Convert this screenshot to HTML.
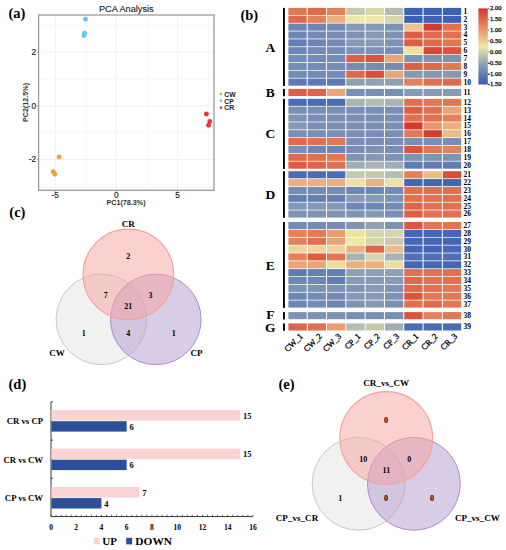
<!DOCTYPE html>
<html><head><meta charset="utf-8"><style>
html,body{margin:0;padding:0;background:#fff;width:506px;height:550px;overflow:hidden}
svg{display:block}
</style></head><body>
<svg width="506" height="550" viewBox="0 0 506 550">
<rect width="506" height="550" fill="#fff"/>
<text x="8.5" y="18" font-family="Liberation Serif, serif" font-weight="bold" font-size="14.5">(a)</text>
<text x="126.3" y="11.6" font-family="Liberation Sans, sans-serif" font-size="9.2" text-anchor="middle" fill="#222" stroke="#222" stroke-width="0.12">PCA Analysis</text>
<line x1="85.80" y1="15.0" x2="85.80" y2="190.3" stroke="#f5f5f5" stroke-width="0.8"/>
<line x1="147.00" y1="15.0" x2="147.00" y2="190.3" stroke="#f5f5f5" stroke-width="0.8"/>
<line x1="208.20" y1="15.0" x2="208.20" y2="190.3" stroke="#f5f5f5" stroke-width="0.8"/>
<line x1="38.6" y1="25.50" x2="214.0" y2="25.50" stroke="#f5f5f5" stroke-width="0.8"/>
<line x1="38.6" y1="79.10" x2="214.0" y2="79.10" stroke="#f5f5f5" stroke-width="0.8"/>
<line x1="38.6" y1="132.70" x2="214.0" y2="132.70" stroke="#f5f5f5" stroke-width="0.8"/>
<line x1="38.6" y1="186.30" x2="214.0" y2="186.30" stroke="#f5f5f5" stroke-width="0.8"/>
<line x1="55.20" y1="15.0" x2="55.20" y2="190.3" stroke="#efefef" stroke-width="0.9"/>
<line x1="116.40" y1="15.0" x2="116.40" y2="190.3" stroke="#efefef" stroke-width="0.9"/>
<line x1="177.60" y1="15.0" x2="177.60" y2="190.3" stroke="#efefef" stroke-width="0.9"/>
<line x1="38.6" y1="52.30" x2="214.0" y2="52.30" stroke="#efefef" stroke-width="0.9"/>
<line x1="38.6" y1="105.90" x2="214.0" y2="105.90" stroke="#efefef" stroke-width="0.9"/>
<line x1="38.6" y1="159.50" x2="214.0" y2="159.50" stroke="#efefef" stroke-width="0.9"/>
<rect x="38.6" y="15.0" width="175.40" height="175.30" fill="none" stroke="#9c9c9c" stroke-width="1.3"/>
<line x1="55.20" y1="190.3" x2="55.20" y2="192.3" stroke="#888" stroke-width="0.7"/>
<text x="55.20" y="197.9" font-family="Liberation Sans, sans-serif" font-size="8.3" text-anchor="middle" fill="#222" stroke="#222" stroke-width="0.15">-5</text>
<line x1="116.40" y1="190.3" x2="116.40" y2="192.3" stroke="#888" stroke-width="0.7"/>
<text x="116.40" y="197.9" font-family="Liberation Sans, sans-serif" font-size="8.3" text-anchor="middle" fill="#222" stroke="#222" stroke-width="0.15">0</text>
<line x1="177.60" y1="190.3" x2="177.60" y2="192.3" stroke="#888" stroke-width="0.7"/>
<text x="177.60" y="197.9" font-family="Liberation Sans, sans-serif" font-size="8.3" text-anchor="middle" fill="#222" stroke="#222" stroke-width="0.15">5</text>
<line x1="36.6" y1="52.30" x2="38.6" y2="52.30" stroke="#888" stroke-width="0.7"/>
<text x="36.2" y="55.20" font-family="Liberation Sans, sans-serif" font-size="8.3" text-anchor="end" fill="#222" stroke="#222" stroke-width="0.15">2</text>
<line x1="36.6" y1="105.90" x2="38.6" y2="105.90" stroke="#888" stroke-width="0.7"/>
<text x="36.2" y="108.80" font-family="Liberation Sans, sans-serif" font-size="8.3" text-anchor="end" fill="#222" stroke="#222" stroke-width="0.15">0</text>
<line x1="36.6" y1="159.50" x2="38.6" y2="159.50" stroke="#888" stroke-width="0.7"/>
<text x="36.2" y="162.40" font-family="Liberation Sans, sans-serif" font-size="8.3" text-anchor="end" fill="#222" stroke="#222" stroke-width="0.15">-2</text>
<text x="126" y="205" font-family="Liberation Sans, sans-serif" font-weight="bold" font-size="7.2" text-anchor="middle" fill="#333">PC1(78.3%)</text>
<text transform="translate(27.8,102.5) rotate(-90)" font-family="Liberation Sans, sans-serif" font-weight="bold" font-size="7.2" text-anchor="middle" fill="#333">PC2(12.5%)</text>
<circle cx="85.5" cy="19.2" r="2.45" fill="#5ac8f2"/>
<circle cx="84.6" cy="33.2" r="2.45" fill="#5ac8f2"/>
<circle cx="83.9" cy="35.6" r="2.45" fill="#5ac8f2"/>
<circle cx="59.0" cy="157.0" r="2.45" fill="#f0a232"/>
<circle cx="53.2" cy="171.8" r="2.45" fill="#f0a232"/>
<circle cx="54.8" cy="174.2" r="2.45" fill="#f0a232"/>
<circle cx="206.4" cy="114.0" r="2.45" fill="#ea3340"/>
<circle cx="209.8" cy="121.4" r="2.45" fill="#ea3340"/>
<circle cx="208.6" cy="125.3" r="2.45" fill="#ea3340"/>
<circle cx="220.9" cy="93.9" r="1.3" fill="#f0a232"/>
<text x="224.3" y="96.70" font-family="Liberation Sans, sans-serif" font-weight="bold" font-size="6.8" fill="#222">CW</text>
<circle cx="220.9" cy="100.7" r="1.3" fill="#5ac8f2"/>
<text x="224.3" y="103.50" font-family="Liberation Sans, sans-serif" font-weight="bold" font-size="6.8" fill="#222">CP</text>
<circle cx="220.9" cy="107.6" r="1.3" fill="#ea3340"/>
<text x="224.3" y="110.40" font-family="Liberation Sans, sans-serif" font-weight="bold" font-size="6.8" fill="#222">CR</text>
<text x="240.4" y="20.4" font-family="Liberation Serif, serif" font-weight="bold" font-size="14.5">(b)</text>
<rect x="283" y="7.90" width="1.9" height="78.00" fill="#000"/>
<text x="270.3" y="51.80" font-family="Liberation Serif, serif" font-weight="bold" font-size="13.5" text-anchor="middle">A</text>
<rect x="288.40" y="7.90" width="18.3" height="7.1" fill="#e27754"/>
<rect x="307.71" y="7.90" width="18.3" height="7.1" fill="#e0694b"/>
<rect x="327.02" y="7.90" width="18.3" height="7.1" fill="#e4815b"/>
<rect x="346.33" y="7.90" width="18.3" height="7.1" fill="#c5c9ae"/>
<rect x="365.64" y="7.90" width="18.3" height="7.1" fill="#d6d5ac"/>
<rect x="384.95" y="7.90" width="18.3" height="7.1" fill="#b5bcb0"/>
<rect x="404.26" y="7.90" width="18.3" height="7.1" fill="#3d61b6"/>
<rect x="423.57" y="7.90" width="18.3" height="7.1" fill="#3d61b6"/>
<rect x="442.88" y="7.90" width="18.3" height="7.1" fill="#3d61b6"/>
<text x="463.5" y="13.90" font-family="Liberation Serif, serif" font-weight="bold" font-size="7.5">1</text>
<rect x="288.40" y="15.75" width="18.3" height="7.1" fill="#e0694b"/>
<rect x="307.71" y="15.75" width="18.3" height="7.1" fill="#e4815b"/>
<rect x="327.02" y="15.75" width="18.3" height="7.1" fill="#e9b17f"/>
<rect x="346.33" y="15.75" width="18.3" height="7.1" fill="#eee8aa"/>
<rect x="365.64" y="15.75" width="18.3" height="7.1" fill="#eee8aa"/>
<rect x="384.95" y="15.75" width="18.3" height="7.1" fill="#d6d5ac"/>
<rect x="404.26" y="15.75" width="18.3" height="7.1" fill="#3d61b6"/>
<rect x="423.57" y="15.75" width="18.3" height="7.1" fill="#3d61b6"/>
<rect x="442.88" y="15.75" width="18.3" height="7.1" fill="#3d61b6"/>
<text x="463.5" y="21.75" font-family="Liberation Serif, serif" font-weight="bold" font-size="7.5">2</text>
<rect x="288.40" y="23.60" width="18.3" height="7.1" fill="#6e86b5"/>
<rect x="307.71" y="23.60" width="18.3" height="7.1" fill="#6e86b5"/>
<rect x="327.02" y="23.60" width="18.3" height="7.1" fill="#748bb4"/>
<rect x="346.33" y="23.60" width="18.3" height="7.1" fill="#8598b4"/>
<rect x="365.64" y="23.60" width="18.3" height="7.1" fill="#8598b4"/>
<rect x="384.95" y="23.60" width="18.3" height="7.1" fill="#7e93b4"/>
<rect x="404.26" y="23.60" width="18.3" height="7.1" fill="#ebc38d"/>
<rect x="423.57" y="23.60" width="18.3" height="7.1" fill="#d73b2d"/>
<rect x="442.88" y="23.60" width="18.3" height="7.1" fill="#e1704f"/>
<text x="463.5" y="29.60" font-family="Liberation Serif, serif" font-weight="bold" font-size="7.5">3</text>
<rect x="288.40" y="31.45" width="18.3" height="7.1" fill="#6e86b5"/>
<rect x="307.71" y="31.45" width="18.3" height="7.1" fill="#748bb4"/>
<rect x="327.02" y="31.45" width="18.3" height="7.1" fill="#748bb4"/>
<rect x="346.33" y="31.45" width="18.3" height="7.1" fill="#7e93b4"/>
<rect x="365.64" y="31.45" width="18.3" height="7.1" fill="#8598b4"/>
<rect x="384.95" y="31.45" width="18.3" height="7.1" fill="#7e93b4"/>
<rect x="404.26" y="31.45" width="18.3" height="7.1" fill="#de5e44"/>
<rect x="423.57" y="31.45" width="18.3" height="7.1" fill="#e0694b"/>
<rect x="442.88" y="31.45" width="18.3" height="7.1" fill="#e1704f"/>
<text x="463.5" y="37.45" font-family="Liberation Serif, serif" font-weight="bold" font-size="7.5">4</text>
<rect x="288.40" y="39.30" width="18.3" height="7.1" fill="#647fb5"/>
<rect x="307.71" y="39.30" width="18.3" height="7.1" fill="#6e86b5"/>
<rect x="327.02" y="39.30" width="18.3" height="7.1" fill="#748bb4"/>
<rect x="346.33" y="39.30" width="18.3" height="7.1" fill="#8598b4"/>
<rect x="365.64" y="39.30" width="18.3" height="7.1" fill="#889ab4"/>
<rect x="384.95" y="39.30" width="18.3" height="7.1" fill="#7e93b4"/>
<rect x="404.26" y="39.30" width="18.3" height="7.1" fill="#de5e44"/>
<rect x="423.57" y="39.30" width="18.3" height="7.1" fill="#e0694b"/>
<rect x="442.88" y="39.30" width="18.3" height="7.1" fill="#e27754"/>
<text x="463.5" y="45.30" font-family="Liberation Serif, serif" font-weight="bold" font-size="7.5">5</text>
<rect x="288.40" y="47.15" width="18.3" height="7.1" fill="#6e86b5"/>
<rect x="307.71" y="47.15" width="18.3" height="7.1" fill="#748bb4"/>
<rect x="327.02" y="47.15" width="18.3" height="7.1" fill="#748bb4"/>
<rect x="346.33" y="47.15" width="18.3" height="7.1" fill="#7e93b4"/>
<rect x="365.64" y="47.15" width="18.3" height="7.1" fill="#7e93b4"/>
<rect x="384.95" y="47.15" width="18.3" height="7.1" fill="#788eb4"/>
<rect x="404.26" y="47.15" width="18.3" height="7.1" fill="#ede1a4"/>
<rect x="423.57" y="47.15" width="18.3" height="7.1" fill="#d94634"/>
<rect x="442.88" y="47.15" width="18.3" height="7.1" fill="#dc543d"/>
<text x="463.5" y="53.15" font-family="Liberation Serif, serif" font-weight="bold" font-size="7.5">6</text>
<rect x="288.40" y="55.00" width="18.3" height="7.1" fill="#748bb4"/>
<rect x="307.71" y="55.00" width="18.3" height="7.1" fill="#748bb4"/>
<rect x="327.02" y="55.00" width="18.3" height="7.1" fill="#748bb4"/>
<rect x="346.33" y="55.00" width="18.3" height="7.1" fill="#de5e44"/>
<rect x="365.64" y="55.00" width="18.3" height="7.1" fill="#dc543d"/>
<rect x="384.95" y="55.00" width="18.3" height="7.1" fill="#e8a676"/>
<rect x="404.26" y="55.00" width="18.3" height="7.1" fill="#7e93b4"/>
<rect x="423.57" y="55.00" width="18.3" height="7.1" fill="#7e93b4"/>
<rect x="442.88" y="55.00" width="18.3" height="7.1" fill="#7e93b4"/>
<text x="463.5" y="61.00" font-family="Liberation Serif, serif" font-weight="bold" font-size="7.5">7</text>
<rect x="288.40" y="62.85" width="18.3" height="7.1" fill="#748bb4"/>
<rect x="307.71" y="62.85" width="18.3" height="7.1" fill="#748bb4"/>
<rect x="327.02" y="62.85" width="18.3" height="7.1" fill="#748bb4"/>
<rect x="346.33" y="62.85" width="18.3" height="7.1" fill="#748bb4"/>
<rect x="365.64" y="62.85" width="18.3" height="7.1" fill="#748bb4"/>
<rect x="384.95" y="62.85" width="18.3" height="7.1" fill="#748bb4"/>
<rect x="404.26" y="62.85" width="18.3" height="7.1" fill="#de5e44"/>
<rect x="423.57" y="62.85" width="18.3" height="7.1" fill="#e0694b"/>
<rect x="442.88" y="62.85" width="18.3" height="7.1" fill="#e27754"/>
<text x="463.5" y="68.85" font-family="Liberation Serif, serif" font-weight="bold" font-size="7.5">8</text>
<rect x="288.40" y="70.70" width="18.3" height="7.1" fill="#748bb4"/>
<rect x="307.71" y="70.70" width="18.3" height="7.1" fill="#748bb4"/>
<rect x="327.02" y="70.70" width="18.3" height="7.1" fill="#748bb4"/>
<rect x="346.33" y="70.70" width="18.3" height="7.1" fill="#e0694b"/>
<rect x="365.64" y="70.70" width="18.3" height="7.1" fill="#da4d38"/>
<rect x="384.95" y="70.70" width="18.3" height="7.1" fill="#e8a676"/>
<rect x="404.26" y="70.70" width="18.3" height="7.1" fill="#8598b4"/>
<rect x="423.57" y="70.70" width="18.3" height="7.1" fill="#8598b4"/>
<rect x="442.88" y="70.70" width="18.3" height="7.1" fill="#8598b4"/>
<text x="463.5" y="76.70" font-family="Liberation Serif, serif" font-weight="bold" font-size="7.5">9</text>
<rect x="288.40" y="78.55" width="18.3" height="7.1" fill="#5d7ab5"/>
<rect x="307.71" y="78.55" width="18.3" height="7.1" fill="#5d7ab5"/>
<rect x="327.02" y="78.55" width="18.3" height="7.1" fill="#5d7ab5"/>
<rect x="346.33" y="78.55" width="18.3" height="7.1" fill="#90a0b3"/>
<rect x="365.64" y="78.55" width="18.3" height="7.1" fill="#90a0b3"/>
<rect x="384.95" y="78.55" width="18.3" height="7.1" fill="#90a0b3"/>
<rect x="404.26" y="78.55" width="18.3" height="7.1" fill="#e4815b"/>
<rect x="423.57" y="78.55" width="18.3" height="7.1" fill="#e1704f"/>
<rect x="442.88" y="78.55" width="18.3" height="7.1" fill="#e0694b"/>
<text x="463.5" y="84.55" font-family="Liberation Serif, serif" font-weight="bold" font-size="7.5">10</text>
<rect x="283" y="88.90" width="1.9" height="7.35" fill="#000"/>
<text x="270.3" y="96.90" font-family="Liberation Serif, serif" font-weight="bold" font-size="13.5" text-anchor="middle">B</text>
<rect x="288.40" y="88.90" width="18.3" height="7.1" fill="#de5e44"/>
<rect x="307.71" y="88.90" width="18.3" height="7.1" fill="#df6548"/>
<rect x="327.02" y="88.90" width="18.3" height="7.1" fill="#e8a676"/>
<rect x="346.33" y="88.90" width="18.3" height="7.1" fill="#788eb4"/>
<rect x="365.64" y="88.90" width="18.3" height="7.1" fill="#788eb4"/>
<rect x="384.95" y="88.90" width="18.3" height="7.1" fill="#788eb4"/>
<rect x="404.26" y="88.90" width="18.3" height="7.1" fill="#889ab4"/>
<rect x="423.57" y="88.90" width="18.3" height="7.1" fill="#889ab4"/>
<rect x="442.88" y="88.90" width="18.3" height="7.1" fill="#889ab4"/>
<text x="463.5" y="94.90" font-family="Liberation Serif, serif" font-weight="bold" font-size="7.5">11</text>
<rect x="283" y="98.80" width="1.9" height="70.15" fill="#000"/>
<text x="270.3" y="138.40" font-family="Liberation Serif, serif" font-weight="bold" font-size="13.5" text-anchor="middle">C</text>
<rect x="288.40" y="98.80" width="18.3" height="7.1" fill="#4a6bb6"/>
<rect x="307.71" y="98.80" width="18.3" height="7.1" fill="#4a6bb6"/>
<rect x="327.02" y="98.80" width="18.3" height="7.1" fill="#4a6bb6"/>
<rect x="346.33" y="98.80" width="18.3" height="7.1" fill="#a9b3b1"/>
<rect x="365.64" y="98.80" width="18.3" height="7.1" fill="#b5bcb0"/>
<rect x="384.95" y="98.80" width="18.3" height="7.1" fill="#a9b3b1"/>
<rect x="404.26" y="98.80" width="18.3" height="7.1" fill="#e1704f"/>
<rect x="423.57" y="98.80" width="18.3" height="7.1" fill="#e27754"/>
<rect x="442.88" y="98.80" width="18.3" height="7.1" fill="#e27754"/>
<text x="463.5" y="104.80" font-family="Liberation Serif, serif" font-weight="bold" font-size="7.5">12</text>
<rect x="288.40" y="106.65" width="18.3" height="7.1" fill="#788eb4"/>
<rect x="307.71" y="106.65" width="18.3" height="7.1" fill="#788eb4"/>
<rect x="327.02" y="106.65" width="18.3" height="7.1" fill="#788eb4"/>
<rect x="346.33" y="106.65" width="18.3" height="7.1" fill="#788eb4"/>
<rect x="365.64" y="106.65" width="18.3" height="7.1" fill="#788eb4"/>
<rect x="384.95" y="106.65" width="18.3" height="7.1" fill="#788eb4"/>
<rect x="404.26" y="106.65" width="18.3" height="7.1" fill="#de5e44"/>
<rect x="423.57" y="106.65" width="18.3" height="7.1" fill="#e1704f"/>
<rect x="442.88" y="106.65" width="18.3" height="7.1" fill="#e8a676"/>
<text x="463.5" y="112.65" font-family="Liberation Serif, serif" font-weight="bold" font-size="7.5">13</text>
<rect x="288.40" y="114.50" width="18.3" height="7.1" fill="#7e93b4"/>
<rect x="307.71" y="114.50" width="18.3" height="7.1" fill="#788eb4"/>
<rect x="327.02" y="114.50" width="18.3" height="7.1" fill="#788eb4"/>
<rect x="346.33" y="114.50" width="18.3" height="7.1" fill="#788eb4"/>
<rect x="365.64" y="114.50" width="18.3" height="7.1" fill="#788eb4"/>
<rect x="384.95" y="114.50" width="18.3" height="7.1" fill="#788eb4"/>
<rect x="404.26" y="114.50" width="18.3" height="7.1" fill="#e1704f"/>
<rect x="423.57" y="114.50" width="18.3" height="7.1" fill="#e1704f"/>
<rect x="442.88" y="114.50" width="18.3" height="7.1" fill="#e4815b"/>
<text x="463.5" y="120.50" font-family="Liberation Serif, serif" font-weight="bold" font-size="7.5">14</text>
<rect x="288.40" y="122.35" width="18.3" height="7.1" fill="#8598b4"/>
<rect x="307.71" y="122.35" width="18.3" height="7.1" fill="#788eb4"/>
<rect x="327.02" y="122.35" width="18.3" height="7.1" fill="#788eb4"/>
<rect x="346.33" y="122.35" width="18.3" height="7.1" fill="#788eb4"/>
<rect x="365.64" y="122.35" width="18.3" height="7.1" fill="#788eb4"/>
<rect x="384.95" y="122.35" width="18.3" height="7.1" fill="#788eb4"/>
<rect x="404.26" y="122.35" width="18.3" height="7.1" fill="#d7382a"/>
<rect x="423.57" y="122.35" width="18.3" height="7.1" fill="#e7976b"/>
<rect x="442.88" y="122.35" width="18.3" height="7.1" fill="#e9b17f"/>
<text x="463.5" y="128.35" font-family="Liberation Serif, serif" font-weight="bold" font-size="7.5">15</text>
<rect x="288.40" y="130.20" width="18.3" height="7.1" fill="#788eb4"/>
<rect x="307.71" y="130.20" width="18.3" height="7.1" fill="#788eb4"/>
<rect x="327.02" y="130.20" width="18.3" height="7.1" fill="#788eb4"/>
<rect x="346.33" y="130.20" width="18.3" height="7.1" fill="#788eb4"/>
<rect x="365.64" y="130.20" width="18.3" height="7.1" fill="#788eb4"/>
<rect x="384.95" y="130.20" width="18.3" height="7.1" fill="#788eb4"/>
<rect x="404.26" y="130.20" width="18.3" height="7.1" fill="#e27754"/>
<rect x="423.57" y="130.20" width="18.3" height="7.1" fill="#d73b2d"/>
<rect x="442.88" y="130.20" width="18.3" height="7.1" fill="#eabc87"/>
<text x="463.5" y="136.20" font-family="Liberation Serif, serif" font-weight="bold" font-size="7.5">16</text>
<rect x="288.40" y="138.05" width="18.3" height="7.1" fill="#e0694b"/>
<rect x="307.71" y="138.05" width="18.3" height="7.1" fill="#e1704f"/>
<rect x="327.02" y="138.05" width="18.3" height="7.1" fill="#e27754"/>
<rect x="346.33" y="138.05" width="18.3" height="7.1" fill="#788eb4"/>
<rect x="365.64" y="138.05" width="18.3" height="7.1" fill="#788eb4"/>
<rect x="384.95" y="138.05" width="18.3" height="7.1" fill="#788eb4"/>
<rect x="404.26" y="138.05" width="18.3" height="7.1" fill="#788eb4"/>
<rect x="423.57" y="138.05" width="18.3" height="7.1" fill="#788eb4"/>
<rect x="442.88" y="138.05" width="18.3" height="7.1" fill="#788eb4"/>
<text x="463.5" y="144.05" font-family="Liberation Serif, serif" font-weight="bold" font-size="7.5">17</text>
<rect x="288.40" y="145.90" width="18.3" height="7.1" fill="#788eb4"/>
<rect x="307.71" y="145.90" width="18.3" height="7.1" fill="#6e86b5"/>
<rect x="327.02" y="145.90" width="18.3" height="7.1" fill="#6e86b5"/>
<rect x="346.33" y="145.90" width="18.3" height="7.1" fill="#788eb4"/>
<rect x="365.64" y="145.90" width="18.3" height="7.1" fill="#7e93b4"/>
<rect x="384.95" y="145.90" width="18.3" height="7.1" fill="#788eb4"/>
<rect x="404.26" y="145.90" width="18.3" height="7.1" fill="#dc543d"/>
<rect x="423.57" y="145.90" width="18.3" height="7.1" fill="#e27754"/>
<rect x="442.88" y="145.90" width="18.3" height="7.1" fill="#e4815b"/>
<text x="463.5" y="151.90" font-family="Liberation Serif, serif" font-weight="bold" font-size="7.5">18</text>
<rect x="288.40" y="153.75" width="18.3" height="7.1" fill="#e0694b"/>
<rect x="307.71" y="153.75" width="18.3" height="7.1" fill="#e1704f"/>
<rect x="327.02" y="153.75" width="18.3" height="7.1" fill="#e27754"/>
<rect x="346.33" y="153.75" width="18.3" height="7.1" fill="#7e93b4"/>
<rect x="365.64" y="153.75" width="18.3" height="7.1" fill="#8598b4"/>
<rect x="384.95" y="153.75" width="18.3" height="7.1" fill="#7e93b4"/>
<rect x="404.26" y="153.75" width="18.3" height="7.1" fill="#7e93b4"/>
<rect x="423.57" y="153.75" width="18.3" height="7.1" fill="#7e93b4"/>
<rect x="442.88" y="153.75" width="18.3" height="7.1" fill="#7e93b4"/>
<text x="463.5" y="159.75" font-family="Liberation Serif, serif" font-weight="bold" font-size="7.5">19</text>
<rect x="288.40" y="161.60" width="18.3" height="7.1" fill="#de5e44"/>
<rect x="307.71" y="161.60" width="18.3" height="7.1" fill="#df6548"/>
<rect x="327.02" y="161.60" width="18.3" height="7.1" fill="#e1704f"/>
<rect x="346.33" y="161.60" width="18.3" height="7.1" fill="#a0adb2"/>
<rect x="365.64" y="161.60" width="18.3" height="7.1" fill="#a9b3b1"/>
<rect x="384.95" y="161.60" width="18.3" height="7.1" fill="#a0adb2"/>
<rect x="404.26" y="161.60" width="18.3" height="7.1" fill="#617cb5"/>
<rect x="423.57" y="161.60" width="18.3" height="7.1" fill="#617cb5"/>
<rect x="442.88" y="161.60" width="18.3" height="7.1" fill="#617cb5"/>
<text x="463.5" y="167.60" font-family="Liberation Serif, serif" font-weight="bold" font-size="7.5">20</text>
<rect x="283" y="171.20" width="1.9" height="46.60" fill="#000"/>
<text x="270.3" y="199.20" font-family="Liberation Serif, serif" font-weight="bold" font-size="13.5" text-anchor="middle">D</text>
<rect x="288.40" y="171.20" width="18.3" height="7.1" fill="#4a6bb6"/>
<rect x="307.71" y="171.20" width="18.3" height="7.1" fill="#4a6bb6"/>
<rect x="327.02" y="171.20" width="18.3" height="7.1" fill="#4a6bb6"/>
<rect x="346.33" y="171.20" width="18.3" height="7.1" fill="#c5c9ae"/>
<rect x="365.64" y="171.20" width="18.3" height="7.1" fill="#c5c9ae"/>
<rect x="384.95" y="171.20" width="18.3" height="7.1" fill="#b5bcb0"/>
<rect x="404.26" y="171.20" width="18.3" height="7.1" fill="#e4815b"/>
<rect x="423.57" y="171.20" width="18.3" height="7.1" fill="#eabc87"/>
<rect x="442.88" y="171.20" width="18.3" height="7.1" fill="#da4d38"/>
<text x="463.5" y="177.20" font-family="Liberation Serif, serif" font-weight="bold" font-size="7.5">21</text>
<rect x="288.40" y="179.05" width="18.3" height="7.1" fill="#e9b17f"/>
<rect x="307.71" y="179.05" width="18.3" height="7.1" fill="#e9b17f"/>
<rect x="327.02" y="179.05" width="18.3" height="7.1" fill="#e9b17f"/>
<rect x="346.33" y="179.05" width="18.3" height="7.1" fill="#ede1a4"/>
<rect x="365.64" y="179.05" width="18.3" height="7.1" fill="#e9b17f"/>
<rect x="384.95" y="179.05" width="18.3" height="7.1" fill="#ede1a4"/>
<rect x="404.26" y="179.05" width="18.3" height="7.1" fill="#4366b6"/>
<rect x="423.57" y="179.05" width="18.3" height="7.1" fill="#4366b6"/>
<rect x="442.88" y="179.05" width="18.3" height="7.1" fill="#4366b6"/>
<text x="463.5" y="185.05" font-family="Liberation Serif, serif" font-weight="bold" font-size="7.5">22</text>
<rect x="288.40" y="186.90" width="18.3" height="7.1" fill="#748bb4"/>
<rect x="307.71" y="186.90" width="18.3" height="7.1" fill="#748bb4"/>
<rect x="327.02" y="186.90" width="18.3" height="7.1" fill="#748bb4"/>
<rect x="346.33" y="186.90" width="18.3" height="7.1" fill="#6e86b5"/>
<rect x="365.64" y="186.90" width="18.3" height="7.1" fill="#6e86b5"/>
<rect x="384.95" y="186.90" width="18.3" height="7.1" fill="#748bb4"/>
<rect x="404.26" y="186.90" width="18.3" height="7.1" fill="#e1704f"/>
<rect x="423.57" y="186.90" width="18.3" height="7.1" fill="#e1704f"/>
<rect x="442.88" y="186.90" width="18.3" height="7.1" fill="#e1704f"/>
<text x="463.5" y="192.90" font-family="Liberation Serif, serif" font-weight="bold" font-size="7.5">23</text>
<rect x="288.40" y="194.75" width="18.3" height="7.1" fill="#647fb5"/>
<rect x="307.71" y="194.75" width="18.3" height="7.1" fill="#647fb5"/>
<rect x="327.02" y="194.75" width="18.3" height="7.1" fill="#647fb5"/>
<rect x="346.33" y="194.75" width="18.3" height="7.1" fill="#889ab4"/>
<rect x="365.64" y="194.75" width="18.3" height="7.1" fill="#889ab4"/>
<rect x="384.95" y="194.75" width="18.3" height="7.1" fill="#7e93b4"/>
<rect x="404.26" y="194.75" width="18.3" height="7.1" fill="#e1704f"/>
<rect x="423.57" y="194.75" width="18.3" height="7.1" fill="#e1704f"/>
<rect x="442.88" y="194.75" width="18.3" height="7.1" fill="#e1704f"/>
<text x="463.5" y="200.75" font-family="Liberation Serif, serif" font-weight="bold" font-size="7.5">24</text>
<rect x="288.40" y="202.60" width="18.3" height="7.1" fill="#8598b4"/>
<rect x="307.71" y="202.60" width="18.3" height="7.1" fill="#8598b4"/>
<rect x="327.02" y="202.60" width="18.3" height="7.1" fill="#8598b4"/>
<rect x="346.33" y="202.60" width="18.3" height="7.1" fill="#6e86b5"/>
<rect x="365.64" y="202.60" width="18.3" height="7.1" fill="#6e86b5"/>
<rect x="384.95" y="202.60" width="18.3" height="7.1" fill="#748bb4"/>
<rect x="404.26" y="202.60" width="18.3" height="7.1" fill="#df6548"/>
<rect x="423.57" y="202.60" width="18.3" height="7.1" fill="#e1704f"/>
<rect x="442.88" y="202.60" width="18.3" height="7.1" fill="#e1704f"/>
<text x="463.5" y="208.60" font-family="Liberation Serif, serif" font-weight="bold" font-size="7.5">25</text>
<rect x="288.40" y="210.45" width="18.3" height="7.1" fill="#7e93b4"/>
<rect x="307.71" y="210.45" width="18.3" height="7.1" fill="#7e93b4"/>
<rect x="327.02" y="210.45" width="18.3" height="7.1" fill="#7e93b4"/>
<rect x="346.33" y="210.45" width="18.3" height="7.1" fill="#7e93b4"/>
<rect x="365.64" y="210.45" width="18.3" height="7.1" fill="#8598b4"/>
<rect x="384.95" y="210.45" width="18.3" height="7.1" fill="#788eb4"/>
<rect x="404.26" y="210.45" width="18.3" height="7.1" fill="#de5e44"/>
<rect x="423.57" y="210.45" width="18.3" height="7.1" fill="#e1704f"/>
<rect x="442.88" y="210.45" width="18.3" height="7.1" fill="#e1704f"/>
<text x="463.5" y="216.45" font-family="Liberation Serif, serif" font-weight="bold" font-size="7.5">26</text>
<rect x="283" y="222.00" width="1.9" height="85.85" fill="#000"/>
<text x="270.3" y="270.00" font-family="Liberation Serif, serif" font-weight="bold" font-size="13.5" text-anchor="middle">E</text>
<rect x="288.40" y="222.00" width="18.3" height="7.1" fill="#748bb4"/>
<rect x="307.71" y="222.00" width="18.3" height="7.1" fill="#748bb4"/>
<rect x="327.02" y="222.00" width="18.3" height="7.1" fill="#748bb4"/>
<rect x="346.33" y="222.00" width="18.3" height="7.1" fill="#7e93b4"/>
<rect x="365.64" y="222.00" width="18.3" height="7.1" fill="#90a0b3"/>
<rect x="384.95" y="222.00" width="18.3" height="7.1" fill="#7e93b4"/>
<rect x="404.26" y="222.00" width="18.3" height="7.1" fill="#dc573f"/>
<rect x="423.57" y="222.00" width="18.3" height="7.1" fill="#e27754"/>
<rect x="442.88" y="222.00" width="18.3" height="7.1" fill="#e27754"/>
<text x="463.5" y="228.00" font-family="Liberation Serif, serif" font-weight="bold" font-size="7.5">27</text>
<rect x="288.40" y="229.85" width="18.3" height="7.1" fill="#e4815b"/>
<rect x="307.71" y="229.85" width="18.3" height="7.1" fill="#e37a56"/>
<rect x="327.02" y="229.85" width="18.3" height="7.1" fill="#e89e70"/>
<rect x="346.33" y="229.85" width="18.3" height="7.1" fill="#ede1a4"/>
<rect x="365.64" y="229.85" width="18.3" height="7.1" fill="#d6d5ac"/>
<rect x="384.95" y="229.85" width="18.3" height="7.1" fill="#d6d5ac"/>
<rect x="404.26" y="229.85" width="18.3" height="7.1" fill="#4366b6"/>
<rect x="423.57" y="229.85" width="18.3" height="7.1" fill="#4366b6"/>
<rect x="442.88" y="229.85" width="18.3" height="7.1" fill="#4366b6"/>
<text x="463.5" y="235.85" font-family="Liberation Serif, serif" font-weight="bold" font-size="7.5">28</text>
<rect x="288.40" y="237.70" width="18.3" height="7.1" fill="#e4815b"/>
<rect x="307.71" y="237.70" width="18.3" height="7.1" fill="#e1704f"/>
<rect x="327.02" y="237.70" width="18.3" height="7.1" fill="#e8a676"/>
<rect x="346.33" y="237.70" width="18.3" height="7.1" fill="#eee8aa"/>
<rect x="365.64" y="237.70" width="18.3" height="7.1" fill="#d6d5ac"/>
<rect x="384.95" y="237.70" width="18.3" height="7.1" fill="#c5c9ae"/>
<rect x="404.26" y="237.70" width="18.3" height="7.1" fill="#4366b6"/>
<rect x="423.57" y="237.70" width="18.3" height="7.1" fill="#4366b6"/>
<rect x="442.88" y="237.70" width="18.3" height="7.1" fill="#4366b6"/>
<text x="463.5" y="243.70" font-family="Liberation Serif, serif" font-weight="bold" font-size="7.5">29</text>
<rect x="288.40" y="245.55" width="18.3" height="7.1" fill="#ecd69c"/>
<rect x="307.71" y="245.55" width="18.3" height="7.1" fill="#ecd69c"/>
<rect x="327.02" y="245.55" width="18.3" height="7.1" fill="#ecd69c"/>
<rect x="346.33" y="245.55" width="18.3" height="7.1" fill="#e9b17f"/>
<rect x="365.64" y="245.55" width="18.3" height="7.1" fill="#df6548"/>
<rect x="384.95" y="245.55" width="18.3" height="7.1" fill="#eabc87"/>
<rect x="404.26" y="245.55" width="18.3" height="7.1" fill="#4366b6"/>
<rect x="423.57" y="245.55" width="18.3" height="7.1" fill="#4366b6"/>
<rect x="442.88" y="245.55" width="18.3" height="7.1" fill="#4668b6"/>
<text x="463.5" y="251.55" font-family="Liberation Serif, serif" font-weight="bold" font-size="7.5">30</text>
<rect x="288.40" y="253.40" width="18.3" height="7.1" fill="#e4815b"/>
<rect x="307.71" y="253.40" width="18.3" height="7.1" fill="#de5e44"/>
<rect x="327.02" y="253.40" width="18.3" height="7.1" fill="#e27754"/>
<rect x="346.33" y="253.40" width="18.3" height="7.1" fill="#a9b3b1"/>
<rect x="365.64" y="253.40" width="18.3" height="7.1" fill="#d6d5ac"/>
<rect x="384.95" y="253.40" width="18.3" height="7.1" fill="#a9b3b1"/>
<rect x="404.26" y="253.40" width="18.3" height="7.1" fill="#5070b5"/>
<rect x="423.57" y="253.40" width="18.3" height="7.1" fill="#5070b5"/>
<rect x="442.88" y="253.40" width="18.3" height="7.1" fill="#5070b5"/>
<text x="463.5" y="259.40" font-family="Liberation Serif, serif" font-weight="bold" font-size="7.5">31</text>
<rect x="288.40" y="261.25" width="18.3" height="7.1" fill="#e8a676"/>
<rect x="307.71" y="261.25" width="18.3" height="7.1" fill="#e8a676"/>
<rect x="327.02" y="261.25" width="18.3" height="7.1" fill="#eddda1"/>
<rect x="346.33" y="261.25" width="18.3" height="7.1" fill="#e9b17f"/>
<rect x="365.64" y="261.25" width="18.3" height="7.1" fill="#e9b17f"/>
<rect x="384.95" y="261.25" width="18.3" height="7.1" fill="#eddda1"/>
<rect x="404.26" y="261.25" width="18.3" height="7.1" fill="#4366b6"/>
<rect x="423.57" y="261.25" width="18.3" height="7.1" fill="#4366b6"/>
<rect x="442.88" y="261.25" width="18.3" height="7.1" fill="#4366b6"/>
<text x="463.5" y="267.25" font-family="Liberation Serif, serif" font-weight="bold" font-size="7.5">32</text>
<rect x="288.40" y="269.10" width="18.3" height="7.1" fill="#5d7ab5"/>
<rect x="307.71" y="269.10" width="18.3" height="7.1" fill="#647fb5"/>
<rect x="327.02" y="269.10" width="18.3" height="7.1" fill="#647fb5"/>
<rect x="346.33" y="269.10" width="18.3" height="7.1" fill="#90a0b3"/>
<rect x="365.64" y="269.10" width="18.3" height="7.1" fill="#90a0b3"/>
<rect x="384.95" y="269.10" width="18.3" height="7.1" fill="#90a0b3"/>
<rect x="404.26" y="269.10" width="18.3" height="7.1" fill="#e1704f"/>
<rect x="423.57" y="269.10" width="18.3" height="7.1" fill="#e1704f"/>
<rect x="442.88" y="269.10" width="18.3" height="7.1" fill="#e1704f"/>
<text x="463.5" y="275.10" font-family="Liberation Serif, serif" font-weight="bold" font-size="7.5">33</text>
<rect x="288.40" y="276.95" width="18.3" height="7.1" fill="#6e86b5"/>
<rect x="307.71" y="276.95" width="18.3" height="7.1" fill="#6e86b5"/>
<rect x="327.02" y="276.95" width="18.3" height="7.1" fill="#647fb5"/>
<rect x="346.33" y="276.95" width="18.3" height="7.1" fill="#889ab4"/>
<rect x="365.64" y="276.95" width="18.3" height="7.1" fill="#889ab4"/>
<rect x="384.95" y="276.95" width="18.3" height="7.1" fill="#889ab4"/>
<rect x="404.26" y="276.95" width="18.3" height="7.1" fill="#e0694b"/>
<rect x="423.57" y="276.95" width="18.3" height="7.1" fill="#e1704f"/>
<rect x="442.88" y="276.95" width="18.3" height="7.1" fill="#e1704f"/>
<text x="463.5" y="282.95" font-family="Liberation Serif, serif" font-weight="bold" font-size="7.5">34</text>
<rect x="288.40" y="284.80" width="18.3" height="7.1" fill="#7e93b4"/>
<rect x="307.71" y="284.80" width="18.3" height="7.1" fill="#7e93b4"/>
<rect x="327.02" y="284.80" width="18.3" height="7.1" fill="#7e93b4"/>
<rect x="346.33" y="284.80" width="18.3" height="7.1" fill="#7e93b4"/>
<rect x="365.64" y="284.80" width="18.3" height="7.1" fill="#889ab4"/>
<rect x="384.95" y="284.80" width="18.3" height="7.1" fill="#7e93b4"/>
<rect x="404.26" y="284.80" width="18.3" height="7.1" fill="#e0694b"/>
<rect x="423.57" y="284.80" width="18.3" height="7.1" fill="#e1704f"/>
<rect x="442.88" y="284.80" width="18.3" height="7.1" fill="#e27754"/>
<text x="463.5" y="290.80" font-family="Liberation Serif, serif" font-weight="bold" font-size="7.5">35</text>
<rect x="288.40" y="292.65" width="18.3" height="7.1" fill="#6e86b5"/>
<rect x="307.71" y="292.65" width="18.3" height="7.1" fill="#748bb4"/>
<rect x="327.02" y="292.65" width="18.3" height="7.1" fill="#748bb4"/>
<rect x="346.33" y="292.65" width="18.3" height="7.1" fill="#8598b4"/>
<rect x="365.64" y="292.65" width="18.3" height="7.1" fill="#889ab4"/>
<rect x="384.95" y="292.65" width="18.3" height="7.1" fill="#7e93b4"/>
<rect x="404.26" y="292.65" width="18.3" height="7.1" fill="#dc543d"/>
<rect x="423.57" y="292.65" width="18.3" height="7.1" fill="#e27754"/>
<rect x="442.88" y="292.65" width="18.3" height="7.1" fill="#e27754"/>
<text x="463.5" y="298.65" font-family="Liberation Serif, serif" font-weight="bold" font-size="7.5">36</text>
<rect x="288.40" y="300.50" width="18.3" height="7.1" fill="#6e86b5"/>
<rect x="307.71" y="300.50" width="18.3" height="7.1" fill="#748bb4"/>
<rect x="327.02" y="300.50" width="18.3" height="7.1" fill="#6e86b5"/>
<rect x="346.33" y="300.50" width="18.3" height="7.1" fill="#7e93b4"/>
<rect x="365.64" y="300.50" width="18.3" height="7.1" fill="#8598b4"/>
<rect x="384.95" y="300.50" width="18.3" height="7.1" fill="#788eb4"/>
<rect x="404.26" y="300.50" width="18.3" height="7.1" fill="#e1704f"/>
<rect x="423.57" y="300.50" width="18.3" height="7.1" fill="#e0694b"/>
<rect x="442.88" y="300.50" width="18.3" height="7.1" fill="#e27754"/>
<text x="463.5" y="306.50" font-family="Liberation Serif, serif" font-weight="bold" font-size="7.5">37</text>
<rect x="283" y="312.10" width="1.9" height="7.35" fill="#000"/>
<text x="270.3" y="319.40" font-family="Liberation Serif, serif" font-weight="bold" font-size="13.5" text-anchor="middle">F</text>
<rect x="288.40" y="312.10" width="18.3" height="7.1" fill="#7e93b4"/>
<rect x="307.71" y="312.10" width="18.3" height="7.1" fill="#7e93b4"/>
<rect x="327.02" y="312.10" width="18.3" height="7.1" fill="#7e93b4"/>
<rect x="346.33" y="312.10" width="18.3" height="7.1" fill="#788eb4"/>
<rect x="365.64" y="312.10" width="18.3" height="7.1" fill="#788eb4"/>
<rect x="384.95" y="312.10" width="18.3" height="7.1" fill="#788eb4"/>
<rect x="404.26" y="312.10" width="18.3" height="7.1" fill="#dc543d"/>
<rect x="423.57" y="312.10" width="18.3" height="7.1" fill="#e4815b"/>
<rect x="442.88" y="312.10" width="18.3" height="7.1" fill="#e27754"/>
<text x="463.5" y="318.10" font-family="Liberation Serif, serif" font-weight="bold" font-size="7.5">38</text>
<rect x="283" y="323.40" width="1.9" height="7.35" fill="#000"/>
<text x="270.3" y="331.80" font-family="Liberation Serif, serif" font-weight="bold" font-size="13.5" text-anchor="middle">G</text>
<rect x="288.40" y="323.40" width="18.3" height="7.1" fill="#df6548"/>
<rect x="307.71" y="323.40" width="18.3" height="7.1" fill="#e1704f"/>
<rect x="327.02" y="323.40" width="18.3" height="7.1" fill="#e89e70"/>
<rect x="346.33" y="323.40" width="18.3" height="7.1" fill="#b5bcb0"/>
<rect x="365.64" y="323.40" width="18.3" height="7.1" fill="#c5c9ae"/>
<rect x="384.95" y="323.40" width="18.3" height="7.1" fill="#a0adb2"/>
<rect x="404.26" y="323.40" width="18.3" height="7.1" fill="#4a6bb6"/>
<rect x="423.57" y="323.40" width="18.3" height="7.1" fill="#4a6bb6"/>
<rect x="442.88" y="323.40" width="18.3" height="7.1" fill="#4a6bb6"/>
<text x="463.5" y="329.40" font-family="Liberation Serif, serif" font-weight="bold" font-size="7.5">39</text>
<text transform="translate(303.15,336.7) rotate(-45)" font-family="Liberation Serif, serif" font-size="8.4" text-anchor="end" stroke="#000" stroke-width="0.3">CW_1</text>
<text transform="translate(322.46,336.7) rotate(-45)" font-family="Liberation Serif, serif" font-size="8.4" text-anchor="end" stroke="#000" stroke-width="0.3">CW_2</text>
<text transform="translate(341.77,336.7) rotate(-45)" font-family="Liberation Serif, serif" font-size="8.4" text-anchor="end" stroke="#000" stroke-width="0.3">CW_3</text>
<text transform="translate(361.08,336.7) rotate(-45)" font-family="Liberation Serif, serif" font-size="8.4" text-anchor="end" stroke="#000" stroke-width="0.3">CP_1</text>
<text transform="translate(380.39,336.7) rotate(-45)" font-family="Liberation Serif, serif" font-size="8.4" text-anchor="end" stroke="#000" stroke-width="0.3">CP_2</text>
<text transform="translate(399.70,336.7) rotate(-45)" font-family="Liberation Serif, serif" font-size="8.4" text-anchor="end" stroke="#000" stroke-width="0.3">CP_3</text>
<text transform="translate(419.01,336.7) rotate(-45)" font-family="Liberation Serif, serif" font-size="8.4" text-anchor="end" stroke="#000" stroke-width="0.3">CR_1</text>
<text transform="translate(438.32,336.7) rotate(-45)" font-family="Liberation Serif, serif" font-size="8.4" text-anchor="end" stroke="#000" stroke-width="0.3">CR_2</text>
<text transform="translate(457.63,336.7) rotate(-45)" font-family="Liberation Serif, serif" font-size="8.4" text-anchor="end" stroke="#000" stroke-width="0.3">CR_3</text>
<defs><linearGradient id="cb" x1="0" y1="0" x2="0" y2="1"><stop offset="0" stop-color="#d63428"/><stop offset="0.25" stop-color="#e68c62"/><stop offset="0.5" stop-color="#eee8aa"/><stop offset="0.75" stop-color="#889ab4"/><stop offset="1" stop-color="#365cb6"/></linearGradient></defs>
<rect x="478.4" y="8.4" width="9.4" height="76.1" fill="url(#cb)"/>
<line x1="487.8" y1="8.40" x2="489.5" y2="8.40" stroke="#222" stroke-width="0.6"/>
<text x="490" y="10.30" font-family="Liberation Serif, serif" font-size="6.6" stroke="#000" stroke-width="0.25">2.00</text>
<line x1="487.8" y1="19.27" x2="489.5" y2="19.27" stroke="#222" stroke-width="0.6"/>
<text x="490" y="21.17" font-family="Liberation Serif, serif" font-size="6.6" stroke="#000" stroke-width="0.25">1.50</text>
<line x1="487.8" y1="30.14" x2="489.5" y2="30.14" stroke="#222" stroke-width="0.6"/>
<text x="490" y="32.04" font-family="Liberation Serif, serif" font-size="6.6" stroke="#000" stroke-width="0.25">1.00</text>
<line x1="487.8" y1="41.01" x2="489.5" y2="41.01" stroke="#222" stroke-width="0.6"/>
<text x="490" y="42.91" font-family="Liberation Serif, serif" font-size="6.6" stroke="#000" stroke-width="0.25">0.50</text>
<line x1="487.8" y1="51.89" x2="489.5" y2="51.89" stroke="#222" stroke-width="0.6"/>
<text x="490" y="53.79" font-family="Liberation Serif, serif" font-size="6.6" stroke="#000" stroke-width="0.25">0.00</text>
<line x1="487.8" y1="62.76" x2="489.5" y2="62.76" stroke="#222" stroke-width="0.6"/>
<text x="487.8" y="64.66" font-family="Liberation Serif, serif" font-size="6.6" stroke="#000" stroke-width="0.25">-0.50</text>
<line x1="487.8" y1="73.63" x2="489.5" y2="73.63" stroke="#222" stroke-width="0.6"/>
<text x="487.8" y="75.53" font-family="Liberation Serif, serif" font-size="6.6" stroke="#000" stroke-width="0.25">-1.00</text>
<line x1="487.8" y1="84.50" x2="489.5" y2="84.50" stroke="#222" stroke-width="0.6"/>
<text x="487.8" y="86.40" font-family="Liberation Serif, serif" font-size="6.6" stroke="#000" stroke-width="0.25">-1.50</text>
<text x="9.3" y="216.8" font-family="Liberation Serif, serif" font-weight="bold" font-size="14.5">(c)</text>
<circle cx="101.4" cy="319.4" r="45.3" fill="#e4e4e4" fill-opacity="0.5" stroke="#c8c8c8" stroke-width="1"/>
<circle cx="155.8" cy="319.4" r="45.3" fill="#b199cd" fill-opacity="0.5" stroke="#b08ad0" stroke-width="1"/>
<circle cx="128.4" cy="274.4" r="45.3" fill="#f6a4a0" fill-opacity="0.5" stroke="#f4a09a" stroke-width="1.1"/>
<text x="128.2" y="259.20" font-family="Liberation Serif, serif" font-weight="bold" font-size="8" text-anchor="middle">2</text>
<text x="105.8" y="297.80" font-family="Liberation Serif, serif" font-weight="bold" font-size="8" text-anchor="middle">7</text>
<text x="150.4" y="297.80" font-family="Liberation Serif, serif" font-weight="bold" font-size="8" text-anchor="middle">3</text>
<text x="128.2" y="308.60" font-family="Liberation Serif, serif" font-weight="bold" font-size="8" text-anchor="middle">21</text>
<text x="83.8" y="335.90" font-family="Liberation Serif, serif" font-weight="bold" font-size="8" text-anchor="middle">1</text>
<text x="128.2" y="335.90" font-family="Liberation Serif, serif" font-weight="bold" font-size="8" text-anchor="middle">4</text>
<text x="173.8" y="335.90" font-family="Liberation Serif, serif" font-weight="bold" font-size="8" text-anchor="middle">1</text>
<text x="128.2" y="227.20" font-family="Liberation Serif, serif" font-weight="bold" font-size="9" text-anchor="middle">CR</text>
<text x="57" y="356.20" font-family="Liberation Serif, serif" font-weight="bold" font-size="9" text-anchor="middle">CW</text>
<text x="196.5" y="356.20" font-family="Liberation Serif, serif" font-weight="bold" font-size="9" text-anchor="middle">CP</text>
<text x="8.5" y="388.7" font-family="Liberation Serif, serif" font-weight="bold" font-size="14.5">(d)</text>
<line x1="51.0" y1="401.8" x2="51.0" y2="516.6" stroke="#222" stroke-width="0.9"/>
<line x1="51.0" y1="516.6" x2="252.92" y2="516.6" stroke="#222" stroke-width="0.9"/>
<line x1="51.0" y1="401.8" x2="53.0" y2="401.8" stroke="#222" stroke-width="0.8"/>
<line x1="51.0" y1="440.1" x2="53.0" y2="440.1" stroke="#222" stroke-width="0.8"/>
<line x1="51.0" y1="478.3" x2="53.0" y2="478.3" stroke="#222" stroke-width="0.8"/>
<line x1="51.00" y1="516.6" x2="51.00" y2="514.8" stroke="#222" stroke-width="0.7"/>
<line x1="56.05" y1="516.6" x2="56.05" y2="514.8" stroke="#222" stroke-width="0.7"/>
<line x1="61.10" y1="516.6" x2="61.10" y2="514.8" stroke="#222" stroke-width="0.7"/>
<line x1="66.14" y1="516.6" x2="66.14" y2="514.8" stroke="#222" stroke-width="0.7"/>
<line x1="71.19" y1="516.6" x2="71.19" y2="514.8" stroke="#222" stroke-width="0.7"/>
<line x1="76.24" y1="516.6" x2="76.24" y2="514.8" stroke="#222" stroke-width="0.7"/>
<line x1="81.29" y1="516.6" x2="81.29" y2="514.8" stroke="#222" stroke-width="0.7"/>
<line x1="86.34" y1="516.6" x2="86.34" y2="514.8" stroke="#222" stroke-width="0.7"/>
<line x1="91.38" y1="516.6" x2="91.38" y2="514.8" stroke="#222" stroke-width="0.7"/>
<line x1="96.43" y1="516.6" x2="96.43" y2="514.8" stroke="#222" stroke-width="0.7"/>
<line x1="101.48" y1="516.6" x2="101.48" y2="514.8" stroke="#222" stroke-width="0.7"/>
<line x1="106.53" y1="516.6" x2="106.53" y2="514.8" stroke="#222" stroke-width="0.7"/>
<line x1="111.58" y1="516.6" x2="111.58" y2="514.8" stroke="#222" stroke-width="0.7"/>
<line x1="116.62" y1="516.6" x2="116.62" y2="514.8" stroke="#222" stroke-width="0.7"/>
<line x1="121.67" y1="516.6" x2="121.67" y2="514.8" stroke="#222" stroke-width="0.7"/>
<line x1="126.72" y1="516.6" x2="126.72" y2="514.8" stroke="#222" stroke-width="0.7"/>
<line x1="131.77" y1="516.6" x2="131.77" y2="514.8" stroke="#222" stroke-width="0.7"/>
<line x1="136.82" y1="516.6" x2="136.82" y2="514.8" stroke="#222" stroke-width="0.7"/>
<line x1="141.86" y1="516.6" x2="141.86" y2="514.8" stroke="#222" stroke-width="0.7"/>
<line x1="146.91" y1="516.6" x2="146.91" y2="514.8" stroke="#222" stroke-width="0.7"/>
<line x1="151.96" y1="516.6" x2="151.96" y2="514.8" stroke="#222" stroke-width="0.7"/>
<line x1="157.01" y1="516.6" x2="157.01" y2="514.8" stroke="#222" stroke-width="0.7"/>
<line x1="162.06" y1="516.6" x2="162.06" y2="514.8" stroke="#222" stroke-width="0.7"/>
<line x1="167.10" y1="516.6" x2="167.10" y2="514.8" stroke="#222" stroke-width="0.7"/>
<line x1="172.15" y1="516.6" x2="172.15" y2="514.8" stroke="#222" stroke-width="0.7"/>
<line x1="177.20" y1="516.6" x2="177.20" y2="514.8" stroke="#222" stroke-width="0.7"/>
<line x1="182.25" y1="516.6" x2="182.25" y2="514.8" stroke="#222" stroke-width="0.7"/>
<line x1="187.30" y1="516.6" x2="187.30" y2="514.8" stroke="#222" stroke-width="0.7"/>
<line x1="192.34" y1="516.6" x2="192.34" y2="514.8" stroke="#222" stroke-width="0.7"/>
<line x1="197.39" y1="516.6" x2="197.39" y2="514.8" stroke="#222" stroke-width="0.7"/>
<line x1="202.44" y1="516.6" x2="202.44" y2="514.8" stroke="#222" stroke-width="0.7"/>
<line x1="207.49" y1="516.6" x2="207.49" y2="514.8" stroke="#222" stroke-width="0.7"/>
<line x1="212.54" y1="516.6" x2="212.54" y2="514.8" stroke="#222" stroke-width="0.7"/>
<line x1="217.58" y1="516.6" x2="217.58" y2="514.8" stroke="#222" stroke-width="0.7"/>
<line x1="222.63" y1="516.6" x2="222.63" y2="514.8" stroke="#222" stroke-width="0.7"/>
<line x1="227.68" y1="516.6" x2="227.68" y2="514.8" stroke="#222" stroke-width="0.7"/>
<line x1="232.73" y1="516.6" x2="232.73" y2="514.8" stroke="#222" stroke-width="0.7"/>
<line x1="237.78" y1="516.6" x2="237.78" y2="514.8" stroke="#222" stroke-width="0.7"/>
<line x1="242.82" y1="516.6" x2="242.82" y2="514.8" stroke="#222" stroke-width="0.7"/>
<line x1="247.87" y1="516.6" x2="247.87" y2="514.8" stroke="#222" stroke-width="0.7"/>
<line x1="252.92" y1="516.6" x2="252.92" y2="514.8" stroke="#222" stroke-width="0.7"/>
<text x="51.00" y="529.8" font-family="Liberation Serif, serif" font-weight="bold" font-size="7.5" text-anchor="middle">0</text>
<text x="76.24" y="529.8" font-family="Liberation Serif, serif" font-weight="bold" font-size="7.5" text-anchor="middle">2</text>
<text x="101.48" y="529.8" font-family="Liberation Serif, serif" font-weight="bold" font-size="7.5" text-anchor="middle">4</text>
<text x="126.72" y="529.8" font-family="Liberation Serif, serif" font-weight="bold" font-size="7.5" text-anchor="middle">6</text>
<text x="151.96" y="529.8" font-family="Liberation Serif, serif" font-weight="bold" font-size="7.5" text-anchor="middle">8</text>
<text x="177.20" y="529.8" font-family="Liberation Serif, serif" font-weight="bold" font-size="7.5" text-anchor="middle">10</text>
<text x="202.44" y="529.8" font-family="Liberation Serif, serif" font-weight="bold" font-size="7.5" text-anchor="middle">12</text>
<text x="227.68" y="529.8" font-family="Liberation Serif, serif" font-weight="bold" font-size="7.5" text-anchor="middle">14</text>
<text x="252.92" y="529.8" font-family="Liberation Serif, serif" font-weight="bold" font-size="7.5" text-anchor="middle">16</text>
<rect x="51.45" y="410.1" width="188.80" height="10.6" fill="#fbd3d3"/>
<rect x="51.45" y="421.20" width="75.22" height="10.4" fill="#2c4f9a"/>
<text x="243.10" y="418.70" font-family="Liberation Serif, serif" font-weight="bold" font-size="8.5">15</text>
<text x="129.52" y="429.70" font-family="Liberation Serif, serif" font-weight="bold" font-size="8.5">6</text>
<text x="43.0" y="424.00" font-family="Liberation Serif, serif" font-weight="bold" font-size="8.7" text-anchor="end">CR vs CP</text>
<rect x="51.45" y="448.6" width="188.80" height="10.6" fill="#fbd3d3"/>
<rect x="51.45" y="459.70" width="75.22" height="10.4" fill="#2c4f9a"/>
<text x="243.10" y="457.20" font-family="Liberation Serif, serif" font-weight="bold" font-size="8.5">15</text>
<text x="129.52" y="468.20" font-family="Liberation Serif, serif" font-weight="bold" font-size="8.5">6</text>
<text x="43.0" y="462.50" font-family="Liberation Serif, serif" font-weight="bold" font-size="8.7" text-anchor="end">CR vs CW</text>
<rect x="51.45" y="487.0" width="87.84" height="10.6" fill="#fbd3d3"/>
<rect x="51.45" y="498.10" width="49.98" height="10.4" fill="#2c4f9a"/>
<text x="142.14" y="495.60" font-family="Liberation Serif, serif" font-weight="bold" font-size="8.5">7</text>
<text x="104.28" y="506.60" font-family="Liberation Serif, serif" font-weight="bold" font-size="8.5">4</text>
<text x="43.0" y="500.90" font-family="Liberation Serif, serif" font-weight="bold" font-size="8.7" text-anchor="end">CP vs CW</text>
<rect x="94" y="537.8" width="5.8" height="6.6" fill="#fbd3d3"/>
<text x="102.2" y="544.8" font-family="Liberation Serif, serif" font-weight="bold" font-size="11">UP</text>
<rect x="126.2" y="537.8" width="6.0" height="6.6" fill="#2c4f9a"/>
<text x="135.3" y="544.8" font-family="Liberation Serif, serif" font-weight="bold" font-size="11.4">DOWN</text>
<text x="278.5" y="388.7" font-family="Liberation Serif, serif" font-weight="bold" font-size="14.5">(e)</text>
<circle cx="358.6" cy="483.8" r="46.4" fill="#e4e4e4" fill-opacity="0.5" stroke="#c8c8c8" stroke-width="1"/>
<circle cx="413.9" cy="483.8" r="46.4" fill="#b199cd" fill-opacity="0.5" stroke="#b08ad0" stroke-width="1"/>
<circle cx="386.2" cy="438.0" r="46.4" fill="#f6a4a0" fill-opacity="0.5" stroke="#f4a09a" stroke-width="1.1"/>
<text x="386" y="422.50" font-family="Liberation Serif, serif" font-weight="bold" font-size="8" text-anchor="middle">0</text>
<text x="363.2" y="461.80" font-family="Liberation Serif, serif" font-weight="bold" font-size="8" text-anchor="middle">10</text>
<text x="409.2" y="461.80" font-family="Liberation Serif, serif" font-weight="bold" font-size="8" text-anchor="middle">0</text>
<text x="386.4" y="472.90" font-family="Liberation Serif, serif" font-weight="bold" font-size="8" text-anchor="middle">11</text>
<text x="340.3" y="501.20" font-family="Liberation Serif, serif" font-weight="bold" font-size="8" text-anchor="middle">1</text>
<text x="386" y="501.20" font-family="Liberation Serif, serif" font-weight="bold" font-size="8" text-anchor="middle">0</text>
<text x="432" y="501.20" font-family="Liberation Serif, serif" font-weight="bold" font-size="8" text-anchor="middle">0</text>
<text x="386.2" y="385.80" font-family="Liberation Serif, serif" font-weight="bold" font-size="9.1" text-anchor="middle">CR_vs_CW</text>
<text x="297" y="521.00" font-family="Liberation Serif, serif" font-weight="bold" font-size="9.1" text-anchor="middle">CP_vs_CR</text>
<text x="477.4" y="521.00" font-family="Liberation Serif, serif" font-weight="bold" font-size="9.1" text-anchor="middle">CP_vs_CW</text>
</svg></body></html>
